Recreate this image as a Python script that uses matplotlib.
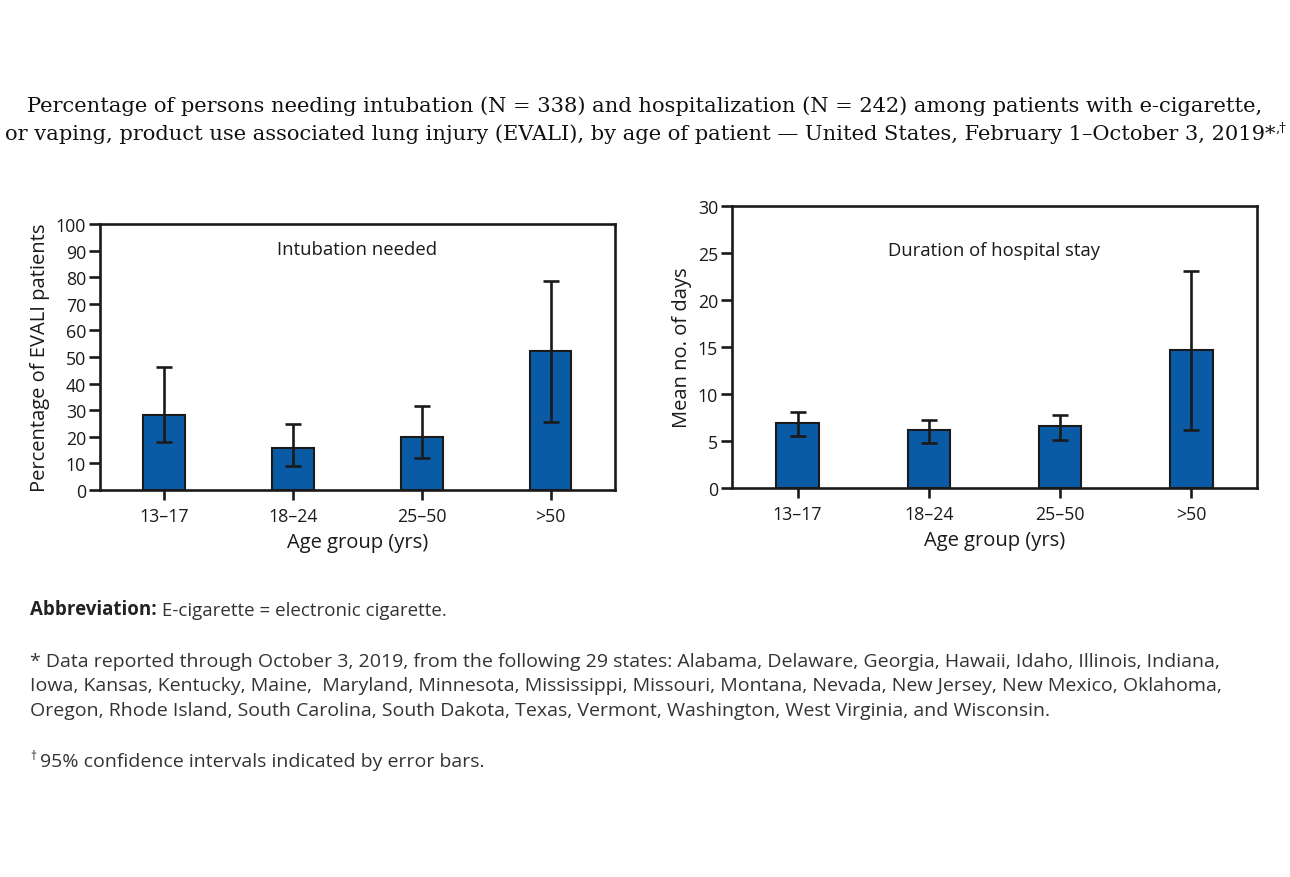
import matplotlib.pyplot as plt
import numpy as np

# data
ages = ['13–17', '18–24', '25–50', '>50']

intub_pct = [28.3, 15.9, 19.9, 52.3]
intub_lo = [17.9, 8.9, 12.0, 25.6]
intub_hi = [46.3, 24.9, 31.6, 78.6]

stay_days = [6.9, 6.2, 6.6, 14.7]
stay_lo = [5.5, 4.8, 5.1, 6.2]
stay_hi = [8.1, 7.2, 7.8, 23.1]

bar_col = '#0a5ba6'
ink = '#1a1a1a'
sans = ['Open Sans', 'DejaVu Sans']

fig = plt.figure(figsize=(12.9, 8.78), dpi=100)
fig.patch.set_facecolor('white')


def panel(rect, vals, lo, hi, ymax, ystep, ylabel, title, title_y):
    ax = fig.add_axes(rect)
    x = np.arange(len(ages))
    ax.bar(x, vals, width=0.325, color=bar_col, edgecolor=ink, linewidth=1.5, zorder=2)
    err = [np.array(vals) - np.array(lo), np.array(hi) - np.array(vals)]
    ax.errorbar(x, vals, yerr=err, fmt='none', ecolor=ink, elinewidth=1.9,
                capsize=5.8, capthick=1.9, zorder=3)
    ax.set_xlim(-0.5, 3.5)
    ax.set_ylim(0, ymax)
    ax.set_yticks(np.arange(0, ymax + 1, ystep))
    ax.set_xticks(x)
    ax.set_xticklabels(ages)
    for s in ax.spines.values():
        s.set_linewidth(1.9)
        s.set_color(ink)
    ax.tick_params(axis='y', length=8, width=1.9, pad=2, labelsize=12.8, colors=ink)
    ax.tick_params(axis='x', length=7, width=1.9, pad=5, labelsize=12.8, colors=ink)
    for lab in ax.get_xticklabels() + ax.get_yticklabels():
        lab.set_family(sans)
    ax.set_xlabel('Age group (yrs)', fontsize=14.5, family=sans, color=ink, labelpad=5)
    ax.set_ylabel(ylabel, fontsize=14.5, family=sans, color=ink, labelpad=4)
    ax.text(0.5, title_y, title, transform=ax.transAxes, ha='center', va='center',
            fontsize=13.3, family=sans, color=ink)
    return ax


ax1 = panel([0.0775, 0.4408, 0.3992, 0.3030], intub_pct, intub_lo, intub_hi,
            100, 10, 'Percentage of EVALI patients', 'Intubation needed', 0.905)
ax2 = panel([0.5674, 0.4431, 0.4070, 0.3212], stay_days, stay_lo, stay_hi,
            30, 5, 'Mean no. of days', 'Duration of hospital stay', 0.845)

# title
serif = ['DejaVu Serif']
tfs = 15.1
fig.text(0.5, 1 - 106 / 878, 'Percentage of persons needing intubation (N = 338) and hospitalization '
         '(N = 242) among patients with e-cigarette,', ha='center', va='center',
         fontsize=tfs, family=serif, color='#111111')
t2 = fig.text(0.496, 1 - 134 / 878, 'or vaping, product use associated lung injury (EVALI), by age of '
              'patient — United States, February 1–October 3, 2019*', ha='center', va='center',
              fontsize=tfs, family=serif, color='#111111')
ax1.annotate(',†', xy=(1.0, 0.8), xycoords=t2, ha='left', va='center',
             fontsize=9.5, family=serif, color='#111111', annotation_clip=False)

# footnotes
note = '#333333'
fs = 14
ab = fig.text(30 / 1290, 1 - 610 / 878, 'Abbreviation:', ha='left', va='center',
              fontsize=13.5, family=sans, weight='bold', color='#222222')
ax1.annotate(' E-cigarette = electronic cigarette.', xy=(1.0, 0.0), xycoords=ab,
             ha='left', va='bottom', fontsize=13.5, family=sans, color=note,
             annotation_clip=False)

lines = [
    '* Data reported through October 3, 2019, from the following 29 states: Alabama, Delaware, '
    'Georgia, Hawaii, Idaho, Illinois, Indiana,',
    'Iowa, Kansas, Kentucky, Maine,  Maryland, Minnesota, Mississippi, Missouri, Montana, Nevada, '
    'New Jersey, New Mexico, Oklahoma,',
    'Oregon, Rhode Island, South Carolina, South Dakota, Texas, Vermont, Washington, West Virginia, '
    'and Wisconsin.',
]
for i, ln in enumerate(lines):
    fig.text(30 / 1290, 1 - (662 + i * 24.5) / 878, ln, ha='left', va='center',
             fontsize=fs, family=sans, color=note)

fig.text(30 / 1290, 1 - 757 / 878, '†', ha='left', va='center', fontsize=8.5,
         family=sans, color=note)
fig.text(40 / 1290, 1 - 762 / 878, '95% confidence intervals indicated by error bars.',
         ha='left', va='center', fontsize=fs, family=sans, color=note)

fig.savefig('out.png', dpi=100, facecolor='white')
